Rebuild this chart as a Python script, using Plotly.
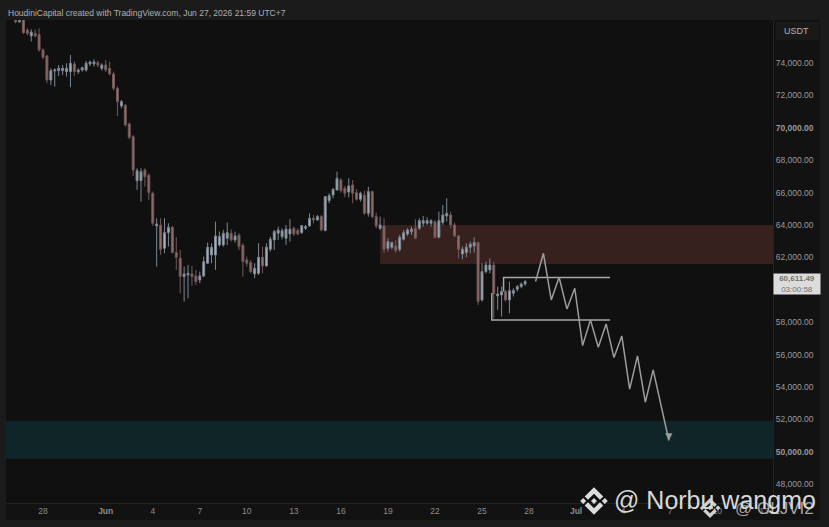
import plotly.graph_objects as go
from datetime import datetime, timedelta

# candles are 6h
first_candle = datetime(2026, 5, 26, 6)

# (high, body top, body bottom, low, is_down)
candles = [
    (76700, 76650, 76530, 76450, 1), (76650, 76610, 76530, 76490, 0), (76757, 76695, 75872, 75790, 1),
    (76140, 76037, 75831, 75728, 1), (76078, 75913, 75666, 75317, 0), (76078, 75831, 75666, 75584, 1),
    (76140, 75749, 74802, 74700, 1), (74905, 74802, 74350, 74227, 1), (74494, 74432, 72951, 72745, 1),
    (73671, 73527, 72951, 72643, 0), (73671, 73568, 73507, 72540, 0), (73877, 73671, 73527, 73198, 0),
    (73877, 73671, 73527, 73260, 0), (73980, 73671, 73465, 73157, 0), (74494, 73980, 73465, 72499, 0),
    (74083, 73939, 73465, 73198, 1), (73671, 73568, 73465, 73321, 0), (73774, 73712, 73568, 73465, 0),
    (74124, 73980, 73568, 73465, 0), (74144, 74062, 73939, 73815, 0), (74227, 74062, 73939, 73774, 0),
    (74144, 74021, 73877, 73733, 1), (73980, 73877, 73671, 73527, 0), (74185, 73877, 73568, 73445, 1),
    (74083, 73671, 73321, 73239, 1), (73465, 73321, 72437, 72293, 1), (72540, 72437, 71614, 70730, 1),
    (71717, 71614, 71347, 71203, 0), (71470, 71388, 70174, 70071, 1), (70318, 70236, 69413, 69290, 1),
    (69557, 69454, 67397, 67027, 1), (67500, 67356, 66739, 66163, 0), (67500, 67294, 66739, 65443, 0),
    (67500, 67397, 66986, 66369, 1), (67192, 67068, 65999, 65546, 1), (66060, 65957, 64106, 63942, 1),
    (64415, 64065, 63942, 61432, 0), (64415, 63983, 62502, 62152, 1), (64415, 63530, 62563, 62255, 0),
    (64106, 63859, 63530, 62666, 0), (63942, 63859, 62296, 62255, 1), (63242, 62296, 62008, 61226, 1),
    (62460, 61946, 60815, 59786, 1), (61432, 60979, 60815, 59272, 0), (61535, 61021, 60918, 59478, 0),
    (61473, 60979, 60815, 60239, 1), (61226, 60856, 60506, 60301, 1), (61123, 60856, 60609, 60403, 0),
    (62049, 61741, 60856, 60774, 0), (62913, 62625, 61638, 61597, 0), (62872, 62625, 62152, 61638, 0),
    (64209, 63324, 62152, 61226, 0), (63592, 63283, 62769, 62666, 0), (63695, 63489, 62769, 62666, 0),
    (64147, 63530, 63180, 62769, 0), (63736, 63489, 63078, 62975, 1), (63592, 63324, 63078, 62913, 0),
    (63489, 63366, 62666, 62460, 1), (62872, 62748, 61741, 60815, 1), (62049, 61843, 61638, 61432, 1),
    (61843, 61679, 61123, 61021, 1), (61638, 61329, 60979, 60712, 0), (62872, 62008, 61021, 60918, 0),
    (62666, 62008, 61473, 61021, 1), (62872, 62625, 61473, 61432, 0), (63283, 63119, 62502, 62358, 0),
    (63695, 63592, 63078, 62460, 0), (63900, 63695, 63489, 63078, 0), (63797, 63653, 63283, 63118, 0),
    (64003, 63756, 63180, 62769, 0), (64353, 63735, 63447, 62974, 0), (63900, 63797, 63447, 63324, 1),
    (63797, 63653, 63447, 63365, 1), (64003, 63962, 63530, 63447, 0), (64003, 63900, 63797, 63694, 0),
    (64723, 64414, 63941, 63900, 0), (64620, 64414, 64311, 64106, 1), (64620, 64517, 64311, 64270, 0),
    (64620, 64517, 63694, 63612, 1), (65792, 65751, 63653, 63612, 0), (65957, 65813, 65504, 65340, 0),
    (66266, 66204, 65854, 65648, 0), (67294, 66883, 66163, 66122, 0), (66883, 66780, 66122, 65998, 1),
    (66410, 66266, 65957, 65710, 1), (66883, 66410, 66039, 65710, 0), (66780, 66471, 65957, 65340, 1),
    (66204, 65998, 65587, 65504, 1), (66060, 65957, 65587, 65443, 0), (66122, 65834, 64723, 64620, 1),
    (66368, 66060, 64723, 64517, 0), (66122, 66060, 64517, 64414, 1), (64764, 64517, 63941, 63797, 1),
    (64517, 64003, 63797, 63694, 0), (64414, 63941, 62501, 62254, 1), (63180, 62974, 62563, 62357, 0),
    (62974, 62913, 62625, 62501, 0), (63077, 62707, 62419, 62296, 1), (63386, 63242, 62501, 62357, 0),
    (63694, 63530, 63118, 63036, 0), (63797, 63694, 63447, 63324, 0), (63900, 63735, 63591, 63386, 0),
    (64353, 63797, 63180, 63118, 1), (64414, 64270, 63797, 63694, 0), (64558, 64270, 64106, 63900, 0),
    (64476, 64270, 64106, 64003, 0), (64353, 64270, 64106, 63900, 0), (64311, 64188, 63242, 63159, 1),
    (64826, 64270, 63242, 63180, 0), (65237, 64620, 64147, 64003, 0), (65648, 64723, 64558, 64209, 0),
    (64826, 64620, 64003, 63797, 1), (64147, 64003, 63324, 63242, 1), (63386, 63324, 62501, 61946, 1),
    (62666, 62501, 62213, 61884, 0), (62871, 62625, 62296, 62008, 0), (62974, 62830, 62625, 62254, 0),
    (63242, 62913, 62707, 62296, 0), (62974, 62913, 59272, 59066, 1), (61637, 61123, 59375, 59272, 0),
    (61740, 61534, 61123, 61020, 0), (61946, 61534, 61226, 61020, 0), (61740, 61534, 59745, 58243, 1),
    (60197, 59745, 59621, 58757, 0), (60197, 59889, 59683, 58346, 0), (59992, 59889, 59375, 59272, 1),
    (60506, 59951, 59375, 58552, 0), (60095, 59951, 59786, 59580, 0), (60300, 60197, 60033, 59889, 0),
    (60444, 60362, 60197, 60095, 0), (60609, 60506, 60362, 60238, 0),
]

times = [first_candle + timedelta(hours=6 * i) for i in range(len(candles))]
highs = [c[0] for c in candles]
lows = [c[3] for c in candles]
opens = [c[1] if c[4] else c[2] for c in candles]
closes = [c[2] if c[4] else c[1] for c in candles]

# projected path drawn by hand on the chart
path_times = [datetime(2026, 6, 28, 10) + timedelta(hours=12 * i) for i in range(16)] + [datetime(2026, 7, 6, 22)]
path_prices = [60508, 62256, 59376, 60775, 58821, 60096, 56558, 58142, 56455, 57895, 55818, 57155,
               53864, 55921, 53061, 55057, 50696]

box_top_x = [datetime(2026, 6, 26, 9), datetime(2026, 6, 26, 9), datetime(2026, 7, 3, 4)]
box_top_y = [59900, 60755, 60755]
box_low_x = [datetime(2026, 6, 25, 15), datetime(2026, 6, 25, 15), datetime(2026, 7, 3, 4)]
box_low_y = [59800, 58142, 58142]

supply_zone = (61598, 64005)
demand_zone = (49567, 51910)
zone_start = datetime(2026, 6, 18, 12)

y_ticks = list(range(48000, 76000, 2000))
y_labels = [("<b>%s.00</b>" if v in (50000, 70000) else "%s.00") % format(v, ",") for v in y_ticks]

x_ticks = ["2026-05-28", "2026-06-01", "2026-06-04", "2026-06-07", "2026-06-10", "2026-06-13", "2026-06-16",
           "2026-06-19", "2026-06-22", "2026-06-25", "2026-06-28", "2026-07-01", "2026-07-04", "2026-07-07",
           "2026-07-10", "2026-07-13"]
x_labels = ["28", "<b>Jun</b>", "4", "7", "10", "13", "16", "19", "22", "25", "28", "<b>Jul</b>", "4", "7", "10", "13"]

FONT = "Liberation Sans"
RED = "#94706c"
GREY = "#a9b4bf"
W, H = 829, 527
LEFT, RIGHT, TOP, BOTTOM = 6, 56, 20, 24


def px_x(x):
    return (x - LEFT) / (W - LEFT - RIGHT)


def px_y(y):
    return 1 - (y - TOP) / (H - TOP - BOTTOM)


def diamond_path(cx, cy, r):
    return "M%.4f,%.4f L%.4f,%.4f L%.4f,%.4f L%.4f,%.4f Z" % (
        px_x(cx - r), px_y(cy), px_x(cx), px_y(cy - r), px_x(cx + r), px_y(cy), px_x(cx), px_y(cy + r))


def chevron_path(cx, cy, s, d):
    # d=-1 top chevron, d=1 bottom chevron
    pts = [(-0.62, 0.25), (0, -0.37), (0.62, 0.25), (0.40, 0.47), (0, 0.07), (-0.40, 0.47)]
    xy = [(px_x(cx + a * s), px_y(cy + (b - 0.55) * s if d < 0 else cy - (b - 0.55) * s)) for a, b in pts]
    return "M" + " L".join("%.4f,%.4f" % p for p in xy) + " Z"


def add_logo(fig, cx, cy, s, color):
    for path in [diamond_path(cx, cy, 0.2 * s), diamond_path(cx - 0.72 * s, cy, 0.2 * s),
                 diamond_path(cx + 0.72 * s, cy, 0.2 * s), chevron_path(cx, cy, s, -1), chevron_path(cx, cy, s, 1)]:
        fig.add_shape(type="path", xref="paper", yref="paper", path=path, fillcolor=color, line_width=0, layer="above")


fig = go.Figure()
fig.add_trace(go.Candlestick(
    x=times, open=opens, high=highs, low=lows, close=closes,
    increasing=dict(line=dict(color="#7d8792", width=1), fillcolor=GREY),
    decreasing=dict(line=dict(color="#75595a", width=1), fillcolor=RED),
    whiskerwidth=0, hoverinfo="skip"))

fig.add_trace(go.Scatter(x=box_top_x, y=box_top_y, mode="lines", line=dict(color="#a8a8a8", width=1.5), hoverinfo="skip"))
fig.add_trace(go.Scatter(x=box_low_x, y=box_low_y, mode="lines", line=dict(color="#a8a8a8", width=1.5), hoverinfo="skip"))
fig.add_trace(go.Scatter(x=path_times, y=path_prices, mode="lines", line=dict(color="#9c9c9c", width=1.5), hoverinfo="skip"))

# arrow head at the end of the path
fig.add_annotation(x=path_times[-1], y=path_prices[-1], ax=path_times[-1], ay=path_prices[-1] + 500,
                   xref="x", yref="y", axref="x", ayref="y", text="", showarrow=True,
                   arrowhead=2, arrowsize=1.2, arrowwidth=1.2, arrowcolor="#9c9c9c")

fig.add_shape(type="rect", xref="x", yref="y", x0=zone_start, x1=datetime(2026, 7, 14), y0=supply_zone[0], y1=supply_zone[1],
              fillcolor="#36211f", line_width=0, layer="below")
fig.add_shape(type="rect", xref="paper", yref="y", x0=0, x1=1, y0=demand_zone[0], y1=demand_zone[1],
              fillcolor="#0f2527", line_width=0, layer="below")

# price scale and time scale panels
fig.add_shape(type="rect", xref="paper", yref="paper", x0=1, x1=px_x(820), y0=px_y(520), y1=1,
              fillcolor="#121212", line_width=0, layer="below")
fig.add_shape(type="rect", xref="paper", yref="paper", x0=0, x1=1, y0=px_y(520), y1=0,
              fillcolor="#121212", line_width=0, layer="below")
fig.add_shape(type="rect", xref="paper", yref="paper", x0=px_x(776), x1=px_x(819), y0=px_y(40), y1=px_y(22),
              fillcolor="#191919", line_width=0, layer="below")

fig.add_annotation(xref="paper", yref="paper", x=px_x(782), y=px_y(31), xanchor="left", yanchor="middle", showarrow=False,
                   text="USDT", font=dict(family=FONT, size=9, color="#b5b5b5"))
fig.add_annotation(xref="paper", yref="paper", x=px_x(6), y=px_y(13), xanchor="left", yanchor="middle", showarrow=False,
                   text="HoudiniCapital created with TradingView.com, Jun 27, 2026 21:59 UTC+7",
                   font=dict(family=FONT, size=8.5, color="#b0b0b0"))
# last price tag
fig.add_annotation(xref="paper", yref="paper", x=px_x(797.5), y=px_y(284), xanchor="center", yanchor="middle", showarrow=False,
                   text="<b>60,611.49</b><br>03:00:58", font=dict(family=FONT, size=8, color="#707070"),
                   bgcolor="#dcdcdc", width=46, height=20, align="center", borderpad=0)

# watermark
add_logo(fig, 594, 501, 15, "#dcdcdc")
add_logo(fig, 710, 508, 11, "#cfcfcf")
fig.add_annotation(xref="paper", yref="paper", x=px_x(612), y=px_y(500), yanchor="middle", xanchor="left", showarrow=False,
                   text="@ Norbu.wangmo", font=dict(family="Liberation Sans", size=25, color="#d8d8d8"))
fig.add_annotation(xref="paper", yref="paper", x=px_x(733), y=px_y(508), yanchor="middle", xanchor="left", showarrow=False,
                   text="@ OLJVI2", font=dict(family="Liberation Sans", size=17, color="rgba(215,215,215,0.75)"))

fig.update_layout(
    width=W, height=H, autosize=False,
    margin=dict(l=LEFT, r=RIGHT, t=TOP, b=BOTTOM),
    paper_bgcolor="#1b1b1b", plot_bgcolor="#101010",
    showlegend=False,
    xaxis=dict(range=[datetime(2026, 5, 25, 15, 22), datetime(2026, 7, 13, 13, 26)], rangeslider_visible=False,
               tickmode="array", tickvals=x_ticks, ticktext=x_labels, showgrid=False, zeroline=False,
               showline=True, linecolor="#222222", ticks="", tickfont=dict(family=FONT, size=8.5, color="#8c8c8c")),
    yaxis=dict(range=[46840, 76653], side="right", tickmode="array", tickvals=y_ticks, ticktext=y_labels,
               showgrid=False, zeroline=False, showline=True, linecolor="#222222", ticks="",
               tickfont=dict(family=FONT, size=8.5, color="#9a9a9a")),
)

# page margin would push the chart 8px off
fig.write_html("out.html", config=dict(displayModeBar=False), post_script="document.body.style.margin='0';")
